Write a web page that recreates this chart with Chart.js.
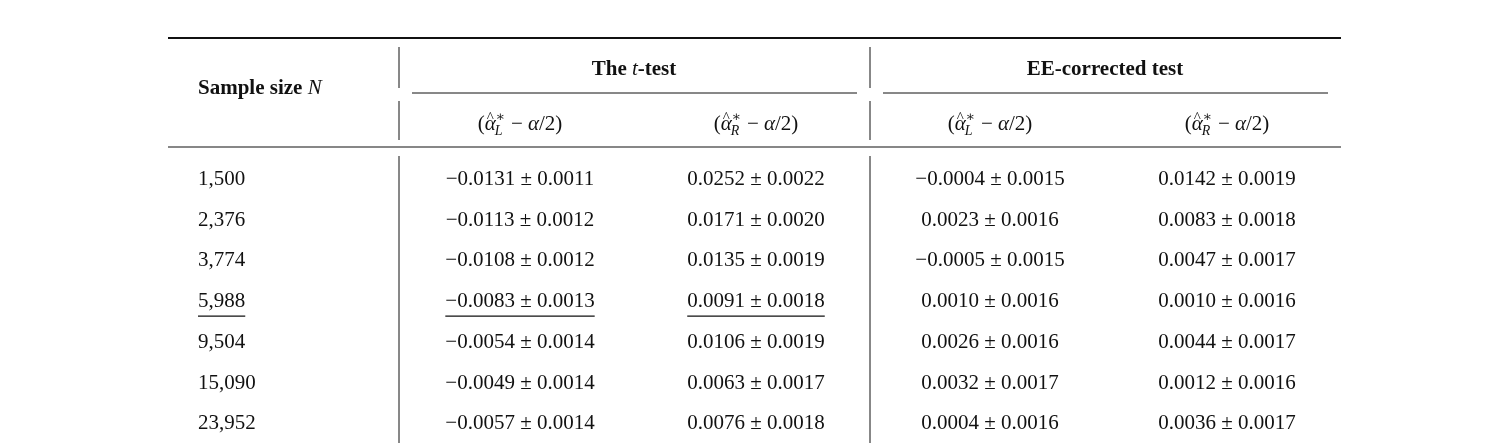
<!DOCTYPE html>
<html><head><meta charset="utf-8">
<script src="https://cdn.jsdelivr.net/npm/chart.js@4"></script>
<style>html,body{margin:0;padding:0;background:#fff}#w{width:1511px;height:446px}</style>
</head><body><div id="w"><canvas id="c"></canvas></div>
<script>
const sampleSizes = ["1,500","2,376","3,774","5,988","9,504","15,090","23,952"];
const tTestL = ["−0.0131 ± 0.0011","−0.0113 ± 0.0012","−0.0108 ± 0.0012","−0.0083 ± 0.0013","−0.0054 ± 0.0014","−0.0049 ± 0.0014","−0.0057 ± 0.0014"];
const tTestR = ["0.0252 ± 0.0022","0.0171 ± 0.0020","0.0135 ± 0.0019","0.0091 ± 0.0018","0.0106 ± 0.0019","0.0063 ± 0.0017","0.0076 ± 0.0018"];
const eeL = ["−0.0004 ± 0.0015","0.0023 ± 0.0016","−0.0005 ± 0.0015","0.0010 ± 0.0016","0.0026 ± 0.0016","0.0032 ± 0.0017","0.0004 ± 0.0016"];
const eeR = ["0.0142 ± 0.0019","0.0083 ± 0.0018","0.0047 ± 0.0017","0.0010 ± 0.0016","0.0044 ± 0.0017","0.0012 ± 0.0016","0.0036 ± 0.0017"];
const underlined = [3];
const groups = ["The t-test","EE-corrected test"];
const F = '"Liberation Serif", "DejaVu Serif", serif';

const tablePlugin = {
  id:'table',
  afterDraw(chart){
    const ctx = chart.ctx, X = v=>chart.scales.x.getPixelForValue(v), Y = v=>chart.scales.y.getPixelForValue(v);
    ctx.save(); ctx.fillStyle='#111'; ctx.strokeStyle='#111'; ctx.textBaseline='alphabetic';
    const line=(x1,y1,x2,y2,w)=>{ctx.lineWidth=w;ctx.beginPath();ctx.moveTo(X(x1),Y(y1));ctx.lineTo(X(x2),Y(y2));ctx.stroke();};
    line(168,38,1341,38,2); line(168,147,1341,147,1.2);
    line(412,93,857,93,1); line(883,93,1328,93,1);
    [399,870].forEach(x=>{line(x,47,x,88,1);line(x,101,x,140,1);line(x,156,x,443,1);});
    // header
    ctx.font='bold 21px '+F; ctx.textAlign='left';
    ctx.fillText('Sample size ',X(198),Y(94));
    let w=ctx.measureText('Sample size ').width;
    ctx.font='italic 21px '+F; ctx.fillText('N',X(198)+w,Y(94));
    // group headers
    const drawT=(cx)=>{
      const parts=[['bold','The '],['italic','t'],['bold','-test']];
      let tw=0; parts.forEach(p=>{ctx.font=p[0]+' 21px '+F; tw+=ctx.measureText(p[1]).width;});
      let x=X(cx)-tw/2; parts.forEach(p=>{ctx.font=p[0]+' 21px '+F; ctx.fillText(p[1],x,Y(75)); x+=ctx.measureText(p[1]).width;});
    };
    drawT(634);
    ctx.font='bold 21px '+F; ctx.textAlign='center'; ctx.fillText(groups[1],X(1105),Y(75));
    // subheaders
    const sub=(cx,s)=>{
      const y=Y(130); ctx.textAlign='left';
      ctx.font='21px '+F; const a=ctx.measureText('(').width;
      ctx.font='italic 21px '+F; const b=ctx.measureText('α').width;
      const tail=' − ', tail2='/2)';
      ctx.font='21px '+F; const c=ctx.measureText(tail).width, e=ctx.measureText(tail2).width;
      ctx.font='italic 21px '+F; const d=ctx.measureText('α').width;
      const sw=10;
      const tot=a+b+sw+c+d+e; let x=X(cx)-tot/2;
      ctx.font='21px '+F; ctx.fillText('(',x,y); x+=a;
      ctx.font='italic 21px '+F; ctx.fillText('α',x,y);
      ctx.font='15px '+F; ctx.fillText('^',x+2,y-8);
      ctx.font='14px '+F; ctx.fillText('∗',x+b,y-9);
      ctx.font='italic 14px '+F; ctx.fillText(s,x+b-1,y+5); x+=b+sw;
      ctx.font='21px '+F; ctx.fillText(tail,x,y); x+=c;
      ctx.font='italic 21px '+F; ctx.fillText('α',x,y); x+=d;
      ctx.font='21px '+F; ctx.fillText(tail2,x,y);
    };
    sub(520,'L'); sub(756,'R'); sub(990,'L'); sub(1227,'R');
    // body
    ctx.font='21px '+F;
    const cols=[tTestL,tTestR,eeL,eeR], cxs=[520,756,990,1227];
    sampleSizes.forEach((n,i)=>{
      const y=185+i*40.7;
      ctx.textAlign='left'; ctx.fillText(n,X(198),Y(y));
      const ul=underlined.includes(i);
      if(ul){const ww=ctx.measureText(n).width; line(198,y+9,198+ww,y+9,1.2);}
      cols.forEach((col,j)=>{
        ctx.textAlign='center'; ctx.fillText(col[i],X(cxs[j]),Y(y));
        if(ul && j<2){const ww=ctx.measureText(col[i]).width; line(cxs[j]-ww/2,y+9,cxs[j]+ww/2,y+9,1.2);}
      });
    });
    ctx.restore();
  }
};
new Chart(document.getElementById('c'),{
  type:'scatter', data:{datasets:[{data:[]}]},
  options:{responsive:true,maintainAspectRatio:false,animation:false,
    layout:{padding:0},
    plugins:{legend:{display:false},tooltip:{enabled:false}},
    scales:{x:{type:'linear',min:0,max:1511,display:false},y:{type:'linear',min:0,max:446,reverse:true,display:false}}},
  plugins:[tablePlugin]
});
</script></body></html>
